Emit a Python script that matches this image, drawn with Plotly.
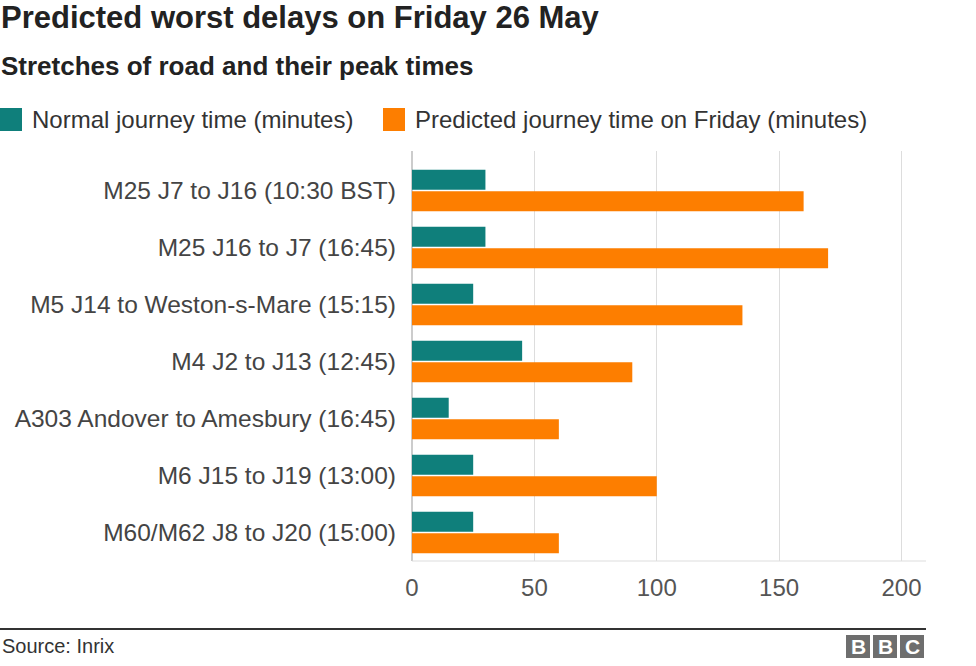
import plotly.graph_objects as go

# chart data
roads = [
    "M25 J7 to J16 (10:30 BST)",
    "M25 J16 to J7 (16:45)",
    "M5 J14 to Weston-s-Mare (15:15)",
    "M4 J2 to J13 (12:45)",
    "A303 Andover to Amesbury (16:45)",
    "M6 J15 to J19 (13:00)",
    "M60/M62 J8 to J20 (15:00)",
]
normal_minutes = [30, 30, 25, 45, 15, 25, 25]
friday_minutes = [160, 170, 135, 90, 60, 100, 60]
x_ticks = [0, 50, 100, 150, 200]

TEAL = "#0f7f7b"
ORANGE = "#fd7e00"
FONT = "Liberation Sans, Arial, sans-serif"

W, H = 976, 666
L, R, T, B = 412, 50, 151, 105
PW, PH = W - L - R, H - T - B


def px(x):
    return (x - L) / PW


def py(y):
    return (H - B - y) / PH


fig = go.Figure()
fig.add_trace(go.Bar(y=roads, x=normal_minutes, orientation="h", name="Normal journey time (minutes)",
                     marker=dict(color=TEAL, line=dict(width=0)), showlegend=False))
fig.add_trace(go.Bar(y=roads, x=friday_minutes, orientation="h", name="Predicted journey time on Friday (minutes)",
                     marker=dict(color=ORANGE, line=dict(width=0)), showlegend=False))

shapes = []
annotations = []

# legend, drawn by hand to get the big square keys
for x0, colour, label in [(0, TEAL, "Normal journey time (minutes)"),
                          (383, ORANGE, "Predicted journey time on Friday (minutes)")]:
    shapes.append(dict(type="rect", xref="paper", yref="paper", x0=px(x0), x1=px(x0 + 22),
                       y0=py(131), y1=py(108), fillcolor=colour, line=dict(width=0)))
    annotations.append(dict(text=label, xref="paper", yref="paper", x=px(x0 + 30), y=py(120),
                            xanchor="left", yanchor="middle", showarrow=False,
                            font=dict(size=24, color="#333333", family=FONT)))

# titles
annotations.append(dict(text="<b>Predicted worst delays on Friday 26 May</b>", xref="paper", yref="paper",
                        x=px(-1), y=py(18), xanchor="left", yanchor="middle", showarrow=False,
                        font=dict(size=31, color="#222222", family=FONT)))
annotations.append(dict(text="<b>Stretches of road and their peak times</b>", xref="paper", yref="paper",
                        x=px(-1), y=py(66), xanchor="left", yanchor="middle", showarrow=False,
                        font=dict(size=26, color="#222222", family=FONT)))

# footer
shapes.append(dict(type="line", xref="paper", yref="paper", x0=px(0), x1=px(926), y0=py(629), y1=py(629),
                   line=dict(color="#333333", width=2)))
annotations.append(dict(text="Source: Inrix", xref="paper", yref="paper", x=px(0), y=py(646),
                        xanchor="left", yanchor="middle", showarrow=False,
                        font=dict(size=20, color="#333333", family=FONT)))
for i, letter in enumerate("BBC"):
    x0 = 846 + i * 27
    shapes.append(dict(type="rect", xref="paper", yref="paper", x0=px(x0), x1=px(x0 + 24),
                       y0=py(658), y1=py(635), fillcolor="#6e6e6e", line=dict(width=0)))
    annotations.append(dict(text="<b>%s</b>" % letter, xref="paper", yref="paper", x=px(x0 + 12), y=py(646.5),
                            xanchor="center", yanchor="middle", showarrow=False,
                            font=dict(size=21, color="white", family=FONT)))

# gridlines run a little above the first row, so pad the top of the category range
n = len(roads)
top_pad = 11 / 57.0

fig.update_layout(
    width=W, height=H,
    margin=dict(l=L, r=R, t=T, b=B, pad=0),
    paper_bgcolor="white", plot_bgcolor="white",
    barmode="group", bargap=0.245, bargroupgap=0.07,
    font=dict(family=FONT, size=24, color="#444444"),
    shapes=shapes, annotations=annotations,
    xaxis=dict(range=[0, 210], tickvals=x_ticks, showgrid=True, gridcolor="#dddddd", gridwidth=1,
               zeroline=True, zerolinecolor="#cccccc", showline=False, ticks="",
               tickfont=dict(size=24, color="#555555"), ticklabelstandoff=10, fixedrange=True),
    yaxis=dict(range=[n - 0.5, -0.5 - top_pad], showgrid=False, ticks="", showline=False,
               tickfont=dict(size=24.5, color="#444444"), ticklabelstandoff=15, fixedrange=True),
)
# bottom axis line
fig.add_shape(type="line", xref="paper", yref="paper", x0=0, x1=1, y0=0, y1=0,
              line=dict(color="#dddddd", width=1))

# drop the page's default body margin so the figure sits at the window's corner
fig.write_html("out.html", config={"displayModeBar": False},
               post_script="document.body.style.margin='0px';")
